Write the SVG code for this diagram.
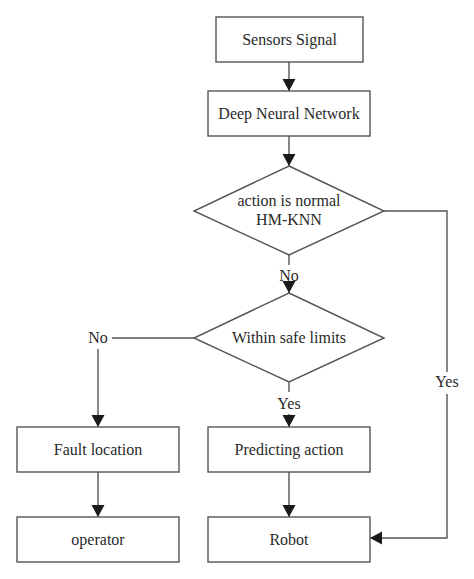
<svg xmlns="http://www.w3.org/2000/svg" width="474" height="579" viewBox="0 0 474 579">
<style>
.box{fill:#fff;stroke:#555;stroke-width:1.4}
.ln{fill:none;stroke:#555;stroke-width:1.4}
text{font-family:"Liberation Serif","Times New Roman",serif;font-size:16px;fill:#2a2a2a;text-anchor:middle}
</style>
<defs>
<marker id="ah" markerUnits="userSpaceOnUse" markerWidth="14" markerHeight="14" refX="12" refY="6.5" orient="auto">
<path d="M0,0 L12,6.5 L0,13 Z" fill="#1a1a1a"/>
</marker>
</defs>
<rect width="474" height="579" fill="#fff"/>
<g id="connectors">
<path class="ln" d="M289,62 V91" marker-end="url(#ah)"/>
<path class="ln" d="M289,136 V166" marker-end="url(#ah)"/>
<path class="ln" d="M289,255 V265"/>
<path class="ln" d="M289,283 V293" marker-end="url(#ah)"/>
<path class="ln" d="M194,338 H112"/>
<path class="ln" d="M98,349 V427" marker-end="url(#ah)"/>
<path class="ln" d="M289,382 V392"/>
<path class="ln" d="M289,414 V427" marker-end="url(#ah)"/>
<path class="ln" d="M384,211 H447 V372"/>
<path class="ln" d="M447,394 V538 H370" marker-end="url(#ah)"/>
<path class="ln" d="M98,472 V517" marker-end="url(#ah)"/>
<path class="ln" d="M289,472 V517" marker-end="url(#ah)"/>
<text x="289" y="281">No</text>
<text x="98" y="343">No</text>
<text x="289" y="409">Yes</text>
<text x="447" y="387">Yes</text>
</g>
<g id="sensors">
<rect class="box" x="216" y="17" width="147" height="45"/>
<text x="289.5" y="45">Sensors Signal</text>
</g>
<g id="dnn">
<rect class="box" x="208" y="91" width="162" height="45"/>
<text x="289" y="119">Deep Neural Network</text>
</g>
<g id="decision1">
<polygon class="box" points="289,166 384,211 289,255 194,211"/>
<text x="289" y="206">action is normal</text>
<text x="289" y="225">HM-KNN</text>
</g>
<g id="decision2">
<polygon class="box" points="289,293 384,338 289,382 194,338"/>
<text x="289" y="343">Within safe limits</text>
</g>
<g id="fault">
<rect class="box" x="17" y="427" width="162" height="45"/>
<text x="98" y="455">Fault location</text>
</g>
<g id="predict">
<rect class="box" x="208" y="427" width="162" height="45"/>
<text x="289" y="455">Predicting action</text>
</g>
<g id="operator">
<rect class="box" x="17" y="517" width="162" height="45"/>
<text x="98" y="545">operator</text>
</g>
<g id="robot">
<rect class="box" x="208" y="517" width="162" height="45"/>
<text x="289" y="545">Robot</text>
</g>
</svg>
